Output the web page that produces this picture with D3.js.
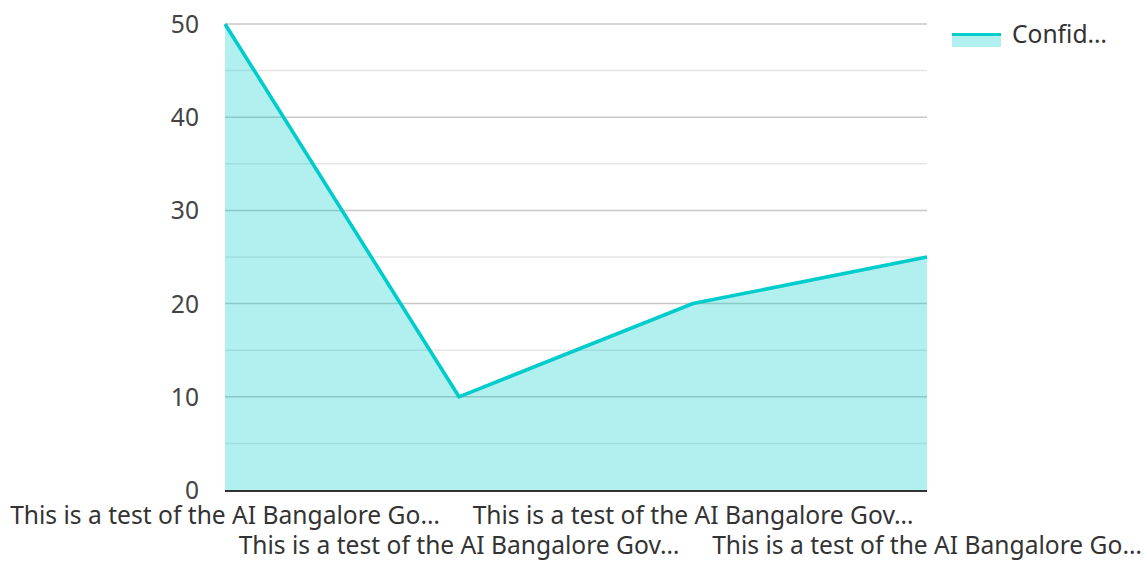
<!DOCTYPE html>
<html>
<head>
<meta charset="utf-8">
<script src="https://cdn.jsdelivr.net/npm/d3@7"></script>
<style>
  html, body { margin: 0; padding: 0; background: #fff; }
  svg { display: block; font-family: "Noto Sans", "Open Sans", sans-serif; }
</style>
</head>
<body>
<div id="chart"></div>
<script>
// categories + one series
const categories = [
  "This is a test of the AI Bangalore Go…",
  "This is a test of the AI Bangalore Gov…",
  "This is a test of the AI Bangalore Gov…",
  "This is a test of the AI Bangalore Go…",
];
const values = [50, 10, 20, 25];
const seriesName = "Confid…";
const yTicks = [0, 10, 20, 30, 40, 50];
const yMinor = [5, 15, 25, 35, 45];

const W = 1146, H = 561;
const X0 = 225, X1 = 927, Y0 = 490, Y1 = 24;
const COL = "#00cccc";
const FS = 24.6;

const svg = d3.select("#chart").append("svg")
  .attr("width", W).attr("height", H);

const x = d3.scalePoint().domain(d3.range(categories.length)).range([X0, X1]).padding(0);
const y = d3.scaleLinear().domain([0, 50]).range([Y0, Y1]);

// gridlines
svg.append("g").selectAll("line").data(yMinor).join("line")
  .attr("x1", X0).attr("x2", X1)
  .attr("y1", d => y(d)).attr("y2", d => y(d))
  .attr("stroke", "#e6e6e6").attr("stroke-width", 1.5);
svg.append("g").selectAll("line").data(yTicks.filter(d => d > 0)).join("line")
  .attr("x1", X0).attr("x2", X1)
  .attr("y1", d => y(d)).attr("y2", d => y(d))
  .attr("stroke", "#c8c8c8").attr("stroke-width", 1.5);

// area + line
svg.append("path")
  .datum(values)
  .attr("d", d3.area().x((d, i) => x(i)).y0(y(0)).y1(d => y(d)))
  .attr("fill", COL).attr("fill-opacity", 0.3);
svg.append("path")
  .datum(values)
  .attr("d", d3.line().x((d, i) => x(i)).y(d => y(d)))
  .attr("fill", "none").attr("stroke", COL).attr("stroke-width", 3.6);

// bottom axis line
svg.append("line")
  .attr("x1", X0).attr("x2", X1).attr("y1", Y0 + 1).attr("y2", Y0 + 1)
  .attr("stroke", "#333").attr("stroke-width", 2);

// y labels
svg.append("g").selectAll("text").data(yTicks).join("text")
  .attr("x", 199).attr("y", d => y(d) + 9)
  .attr("text-anchor", "end")
  .attr("fill", "#444").style("font-size", FS + "px")
  .text(d => d);

// x labels, staggered in two rows
svg.append("g").selectAll("text").data(categories).join("text")
  .attr("x", (d, i) => x(i))
  .attr("y", (d, i) => i % 2 ? 554 : 524)
  .attr("text-anchor", "middle")
  .attr("fill", "#333").style("font-size", FS + "px")
  .text(d => d);

// legend
const lg = svg.append("g").attr("transform", "translate(952,33)");
lg.append("rect").attr("x", 0).attr("y", 0).attr("width", 49).attr("height", 14)
  .attr("fill", COL).attr("fill-opacity", 0.3);
lg.append("line").attr("x1", 0).attr("x2", 49).attr("y1", 1.5).attr("y2", 1.5)
  .attr("stroke", COL).attr("stroke-width", 3);
lg.append("text").attr("x", 60).attr("y", 10)
  .attr("fill", "#333").style("font-size", FS + "px")
  .text(seriesName);
</script>
</body>
</html>
